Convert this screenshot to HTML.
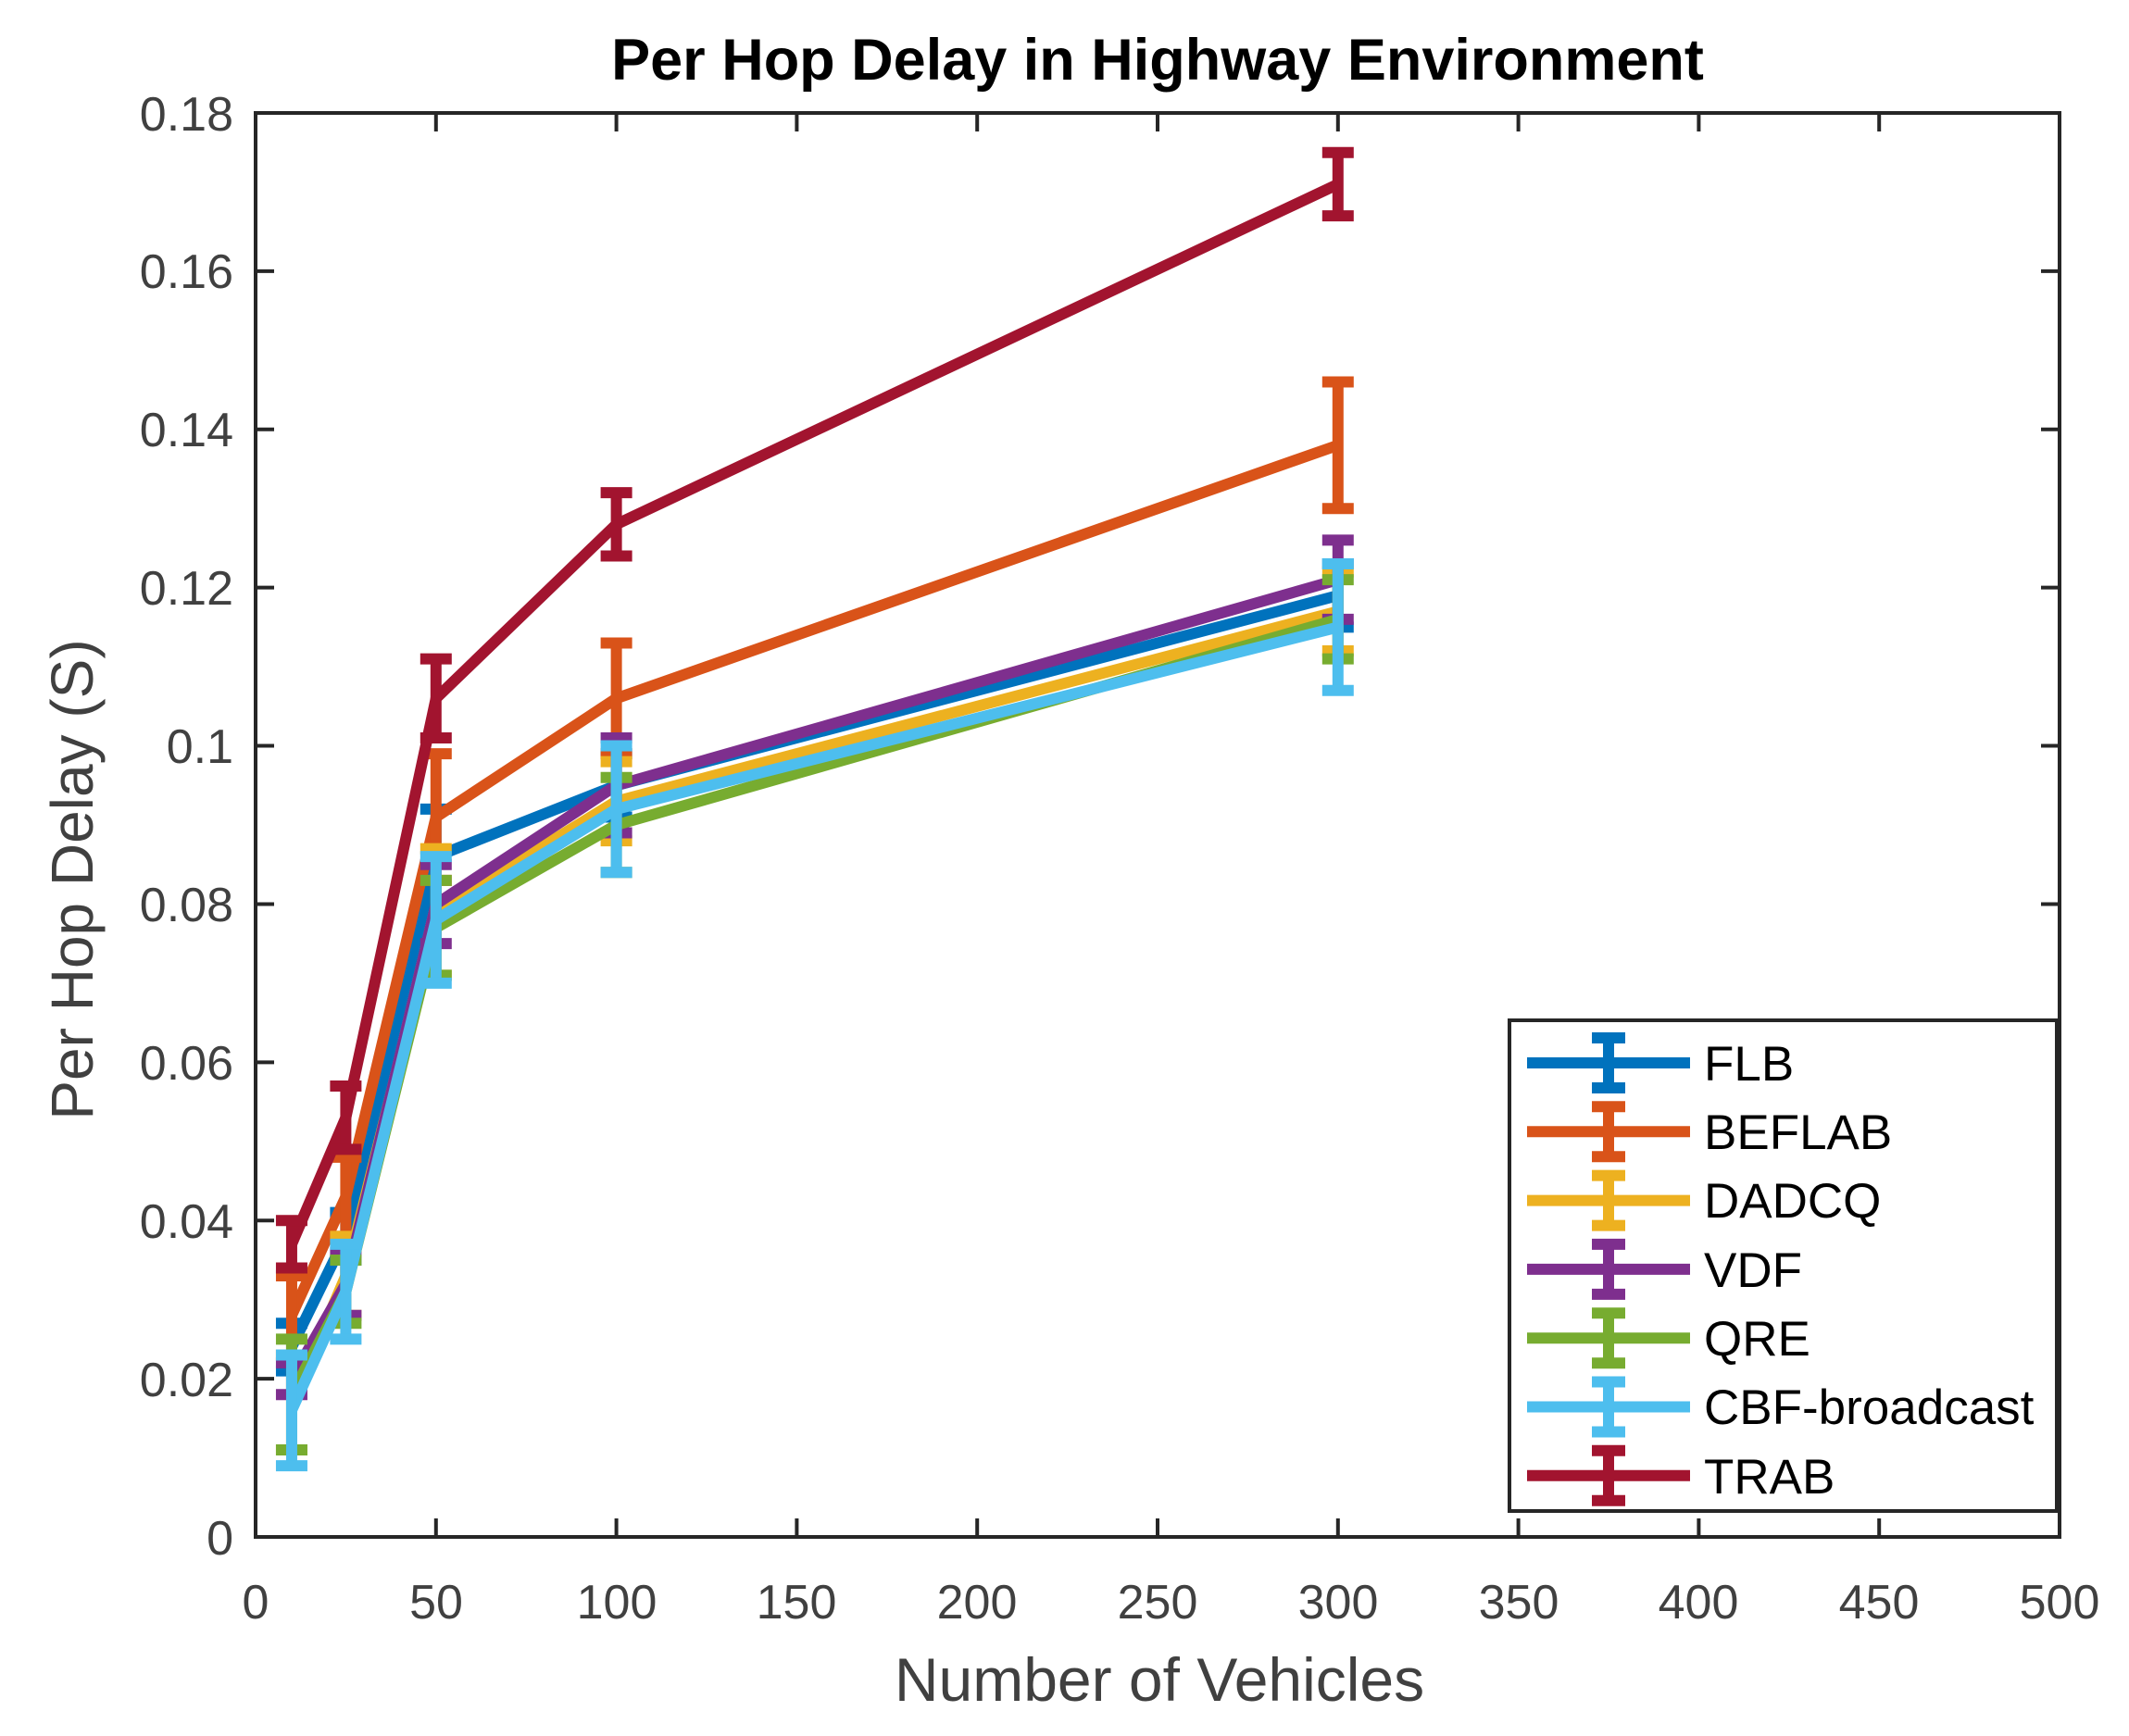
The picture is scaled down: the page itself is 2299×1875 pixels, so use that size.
<!DOCTYPE html>
<html><head><meta charset="utf-8"><style>
html,body{margin:0;padding:0;background:#fff;}
svg{display:block;}
text{font-family:"Liberation Sans",Arial,sans-serif;}
</style></head><body>
<svg id="s" width="2299" height="1875" viewBox="0 0 2299 1875" xmlns="http://www.w3.org/2000/svg">
<rect width="2299" height="1875" fill="#fff"/>
<g id="plot"></g>
<rect x="276" y="122" width="1948" height="1538" fill="none" stroke="#262626" stroke-width="4"/>
<g id="ticks" stroke="#262626" stroke-width="4"></g>
<text x="1250" y="86" font-size="63" font-weight="bold" text-anchor="middle" fill="#000">Per Hop Delay in Highway Environment</text>
<g font-size="52" fill="#404040" text-anchor="end">
<text x="252" y="1679">0</text>
<text x="252" y="1508">0.02</text>
<text x="252" y="1337">0.04</text>
<text x="252" y="1166">0.06</text>
<text x="252" y="995">0.08</text>
<text x="252" y="824">0.1</text>
<text x="252" y="653">0.12</text>
<text x="252" y="482">0.14</text>
<text x="252" y="311">0.16</text>
<text x="252" y="141">0.18</text>
</g>
<g font-size="52" fill="#404040" text-anchor="middle">
<text x="276" y="1748">0</text>
<text x="471" y="1748">50</text>
<text x="666" y="1748">100</text>
<text x="860" y="1748">150</text>
<text x="1055" y="1748">200</text>
<text x="1250" y="1748">250</text>
<text x="1445" y="1748">300</text>
<text x="1640" y="1748">350</text>
<text x="1834" y="1748">400</text>
<text x="2029" y="1748">450</text>
<text x="2224" y="1748">500</text>
</g>
<text x="1252" y="1837" font-size="66" fill="#404040" text-anchor="middle">Number of Vehicles</text>
<text transform="translate(100,950) rotate(-90)" font-size="64" fill="#404040" text-anchor="middle">Per Hop Delay (S)</text>
<rect x="1630" y="1102" width="591" height="530" fill="#fff" stroke="#262626" stroke-width="4"/>
<g id="leg"></g>
<g font-size="53" fill="#000">
<text x="1840" y="1167">FLB</text>
<text x="1840" y="1241">BEFLAB</text>
<text x="1840" y="1315">DADCQ</text>
<text x="1840" y="1390">VDF</text>
<text x="1840" y="1464">QRE</text>
<text x="1840" y="1538">CBF-broadcast</text>
<text x="1840" y="1613">TRAB</text>
</g>
</svg>
<script>
var NS="http://www.w3.org/2000/svg";
function X(v){return 276+v*3.896;}
function Y(v){return 1660-v*8544.4;}
function el(p,t,a){var e=document.createElementNS(NS,t);for(var k in a)e.setAttribute(k,a[k]);p.appendChild(e);return e;}
var tk=document.getElementById('ticks');
for(var i=0;i<=10;i++){var x=X(i*50);el(tk,'line',{x1:x,y1:1660,x2:x,y2:1640});el(tk,'line',{x1:x,y1:122,x2:x,y2:142});}
for(var i=0;i<=9;i++){var y=Y(i*0.02);el(tk,'line',{x1:276,y1:y,x2:296,y2:y});el(tk,'line',{x1:2224,y1:y,x2:2204,y2:y});}
var xs=[10,25,50,100,300];
var S=[
["#0072BD",[0.024,0.038,0.086,0.095,0.119],[0.003,0.003,0.006,0.004,0.004]],
["#D95319",[0.028,0.043,0.091,0.106,0.138],[0.005,0.005,0.008,0.007,0.008]],
["#EDB120",[0.017,0.033,0.079,0.093,0.117],[0.006,0.005,0.008,0.005,0.005]],
["#7E2F8E",[0.020,0.032,0.080,0.095,0.121],[0.002,0.004,0.005,0.006,0.005]],
["#77AC30",[0.018,0.031,0.077,0.090,0.116],[0.007,0.004,0.006,0.006,0.005]],
["#4DBEEE",[0.016,0.031,0.078,0.092,0.115],[0.007,0.006,0.008,0.008,0.008]],
["#A2142F",[0.037,0.053,0.106,0.128,0.171],[0.003,0.004,0.005,0.004,0.004]]];
var g=document.getElementById('plot'),lg=document.getElementById('leg');
var W=12;
S.forEach(function(s,k){
 var pts=xs.map(function(x,i){return X(x)+','+Y(s[1][i]);}).join(' ');
 el(g,'polyline',{points:pts,fill:'none',stroke:s[0],'stroke-width':W,'stroke-linejoin':'round'});
 xs.forEach(function(x,i){var cx=X(x),t=Y(s[1][i]+s[2][i]),b=Y(s[1][i]-s[2][i]);
  el(g,'line',{x1:cx,y1:t,x2:cx,y2:b,stroke:s[0],'stroke-width':W});
  el(g,'line',{x1:cx-17,y1:t,x2:cx+17,y2:t,stroke:s[0],'stroke-width':W});
  el(g,'line',{x1:cx-17,y1:b,x2:cx+17,y2:b,stroke:s[0],'stroke-width':W});});
 var ly=1148+k*74.3;
 el(lg,'line',{x1:1649,y1:ly,x2:1825,y2:ly,stroke:s[0],'stroke-width':W});
 el(lg,'line',{x1:1737,y1:ly-27,x2:1737,y2:ly+27,stroke:s[0],'stroke-width':W});
 el(lg,'line',{x1:1719,y1:ly-27,x2:1755,y2:ly-27,stroke:s[0],'stroke-width':W});
 el(lg,'line',{x1:1719,y1:ly+27,x2:1755,y2:ly+27,stroke:s[0],'stroke-width':W});
});
</script>
</body></html>
